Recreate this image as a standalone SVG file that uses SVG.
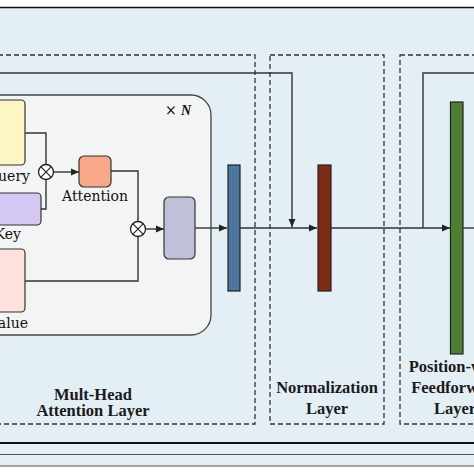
<svg xmlns="http://www.w3.org/2000/svg" width="474" height="474" viewBox="0 0 474 474">
<defs>
<marker id="ah" viewBox="0 0 8 8" refX="8" refY="4" markerWidth="8" markerHeight="8" markerUnits="userSpaceOnUse" orient="auto">
<path d="M0,0.5 L8,4 L0,7.5 Z" fill="#222"/>
</marker>
<style>
.dash{fill:none;stroke:#333;stroke-width:1.3;stroke-dasharray:5 3}
.ln{fill:none;stroke:#333;stroke-width:1.4}
.arr{fill:none;stroke:#333;stroke-width:1.4;marker-end:url(#ah)}
.big{font-family:"Liberation Serif","DejaVu Serif",serif;font-weight:bold;font-size:16.5px;fill:#1a1a1a;text-anchor:middle}
.sm{font-family:"DejaVu Serif","Liberation Serif",serif;font-size:14px;fill:#111}
.op{fill:#fff;stroke:#222;stroke-width:1.3}
</style>
</defs>
<rect x="0" y="0" width="474" height="474" fill="#fff"/>
<rect x="0" y="7" width="474" height="459" fill="#e4eef5"/>
<line x1="0" y1="7.5" x2="474" y2="7.5" stroke="#111" stroke-width="1.6"/>
<line x1="0" y1="443" x2="474" y2="443" stroke="#111" stroke-width="2.2"/>
<line x1="0" y1="454.5" x2="474" y2="454.5" stroke="#555" stroke-width="1"/>
<line x1="0" y1="466" x2="474" y2="466" stroke="#555" stroke-width="1"/>

<g id="mha-layer">
<rect class="dash" x="-10" y="55" width="265" height="369"/>
<text class="big" x="93" y="400">Mult-Head</text>
<text class="big" x="93" y="416">Attention Layer</text>
</g>
<g id="norm-layer">
<rect class="dash" x="270" y="55" width="114" height="369"/>
<text class="big" x="327" y="393">Normalization</text>
<text class="big" x="327" y="414">Layer</text>
</g>
<g id="ff-layer">
<rect class="dash" x="400" y="55" width="120" height="369"/>
<text class="big" x="455" y="372">Position-wise</text>
<text class="big" x="457" y="393">Feedforward</text>
<text class="big" x="455" y="414">Layer</text>
</g>

<g id="head-block">
<path d="M-10,95 H191 A20,20 0 0 1 211,115 V315 A20,20 0 0 1 191,335 H-10 Z" fill="#f3f4f4" stroke="#444" stroke-width="1.3"/>
<text x="165" y="115" font-family="'DejaVu Serif',serif" font-size="14" fill="#111">×</text>
<text x="181" y="115" font-family="'Liberation Serif',serif" font-size="14" font-style="italic" font-weight="bold" fill="#111">N</text>
</g>

<g id="query">
<rect x="-10" y="100" width="35" height="65" rx="4" fill="#fdf5c3" stroke="#333" stroke-width="1.2"/>
<text class="sm" x="30" y="181" text-anchor="end">Query</text>
</g>
<g id="key">
<rect x="-10" y="193" width="51" height="32" rx="4" fill="#d5c8f5" stroke="#333" stroke-width="1.2"/>
<text class="sm" x="21" y="239" text-anchor="end">Key</text>
</g>
<g id="value">
<rect x="-10" y="249" width="35" height="63" rx="4" fill="#fde1da" stroke="#333" stroke-width="1.2"/>
<text class="sm" x="28" y="328" text-anchor="end">Value</text>
</g>
<g id="attention">
<rect x="79" y="156" width="32" height="31" rx="5" fill="#f9a98a" stroke="#333" stroke-width="1.2"/>
<text class="sm" x="95" y="201" text-anchor="middle">Attention</text>
</g>
<g id="mult1">
<circle class="op" cx="46" cy="172" r="7.5"/>
<path d="M40.7,166.7 L51.3,177.3 M51.3,166.7 L40.7,177.3" stroke="#222" stroke-width="1.2"/>
</g>
<g id="mult2">
<circle class="op" cx="138" cy="229" r="7.5"/>
<path d="M132.7,223.7 L143.3,234.3 M143.3,223.7 L132.7,234.3" stroke="#222" stroke-width="1.2"/>
</g>
<g id="concat">
<rect x="164" y="197" width="31" height="62" rx="5" fill="#c0c1d9" stroke="#333" stroke-width="1.2"/>
</g>
<g id="linear-bar">
<rect x="228" y="165" width="12" height="126" fill="#4a76a0" stroke="#222" stroke-width="1.2"/>
</g>
<g id="norm-bar">
<rect x="318" y="165" width="13" height="126" fill="#7a2c14" stroke="#222" stroke-width="1.2"/>
</g>
<g id="ff-bar">
<rect x="450.5" y="102" width="12.5" height="252" fill="#4f7f33" stroke="#222" stroke-width="1.2"/>
</g>

<g id="connectors">
<path class="ln" d="M25,133 H46 V164.5"/>
<path class="ln" d="M41,209 H46 V179.5"/>
<path class="arr" d="M53.5,172 H79"/>
<path class="ln" d="M111,171 H138 V221.5"/>
<path class="ln" d="M25,281 H138 V236.5"/>
<path class="arr" d="M145.5,229 H164"/>
<path class="arr" d="M195,228 H227"/>
<path class="arr" d="M240,228 H317"/>
<path class="arr" d="M0,73 H292 V227"/>
<path class="arr" d="M331,228 H450"/>
<path class="ln" d="M423,228 V73 H474"/>
<path class="ln" d="M463,228 H474"/>
</g>
</svg>
